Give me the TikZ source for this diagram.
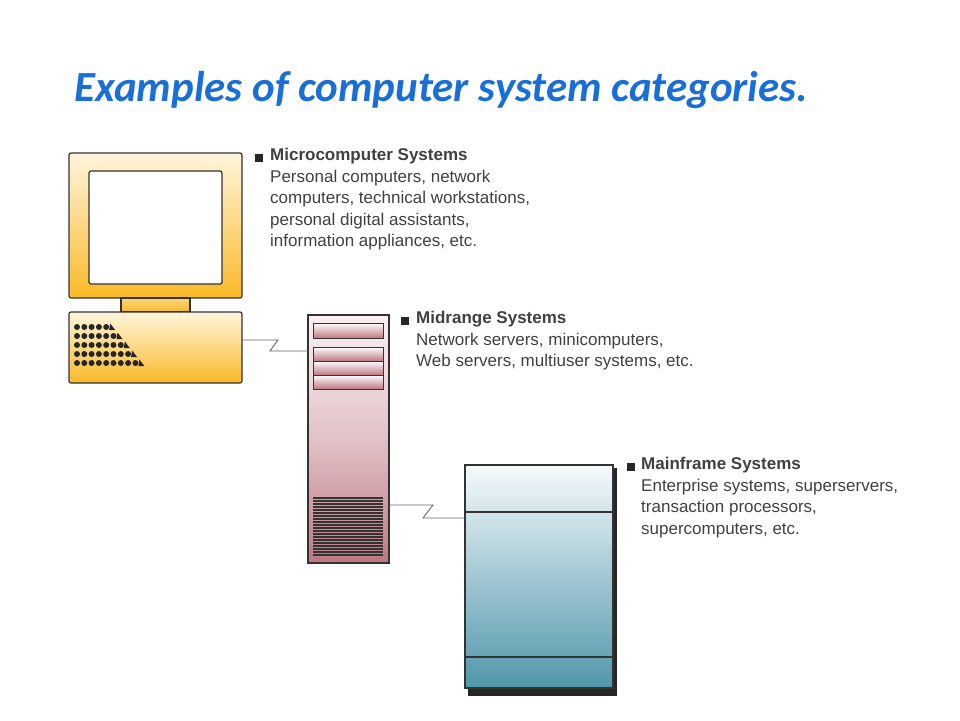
\documentclass[tikz,border=0pt]{standalone}
\usepackage{fontspec}
\setmainfont{Liberation Sans}
\newfontfamily\titlefont{Carlito}[UprightFont=*-BoldItalic,BoldFont=*-BoldItalic,ItalicFont=*-BoldItalic,BoldItalicFont=*-BoldItalic]
\definecolor{titleblue}{RGB}{25,110,215}
\definecolor{mon}{RGB}{250,185,40}
\definecolor{monlt}{RGB}{255,245,220}
\definecolor{tow}{RGB}{190,120,130}
\definecolor{towlt}{RGB}{250,240,242}
\definecolor{mf}{RGB}{80,150,170}
\definecolor{mflt}{RGB}{245,250,252}
\tikzset{
  body/.style={draw=black!80,line width=1.2pt},
  wire/.style={draw=black!60,line width=0.9pt},
  lbl/.style={anchor=north west,inner sep=0pt,align=left,font=\fontsize{17}{21.6}\selectfont,text=black!75},
  bul/.style={fill=black!85,minimum size=8pt,inner sep=0pt},
}
\begin{document}
\begin{tikzpicture}[x=1pt,y=-1pt]
\useasboundingbox (0,0) rectangle (960,720);
% title
\node[anchor=base west,inner sep=0pt,text=titleblue] (title) at (74,101) {\titlefont\fontsize{43}{48}\selectfont Examples of computer system categories.};
% monitor
\draw[body,rounded corners=2pt,top color=monlt,bottom color=mon] (69,153) rectangle (242,298);
\draw[body,rounded corners=2pt,fill=white] (89,171) rectangle (222,284);
\draw[body,top color=mon!60,bottom color=mon] (121,298) rectangle (190,312);
\draw[body,rounded corners=2pt,top color=monlt,bottom color=mon] (69,312) rectangle (242,383);
\node[inner sep=0pt,minimum width=0pt] (micro) at (242,340) {};
\foreach \r/\n in {0/4,1/5,2/6,3/7,4/8}{
  \foreach \c in {0,...,\n}{
    \fill[black!85] (77+\c*7.3,327+\r*9) circle (3pt);
  }
  \fill[black!85] (77+\n*7.3+4,323.5+\r*9) -- (77+\n*7.3+9,330+\r*9) -- (77+\n*7.3+3,330+\r*9) -- cycle;
}
% tower
\draw[body,top color=towlt,bottom color=tow,middle color=tow!45] (308,315) rectangle (389,563);
\node[inner sep=0pt] (tower) at (308,351) {};
\node[inner sep=0pt] (towerr) at (389,505) {};
\foreach \a/\b in {323/338,347/361,361/375,375/389}
  \draw[body,line width=1pt,top color=white,bottom color=tow] (313,\a) rectangle (383,\b);
\foreach \i in {0,...,19} \draw[black!80,line width=1.3pt] (313,498+\i*3) -- (383,498+\i*3);
% mainframe
\fill[black!85] (468,688) rectangle (617,696);
\fill[black!85] (613,468) rectangle (617,696);
\draw[body,top color=mflt,bottom color=mf] (465,465) rectangle (613,688);
\draw[body] (465,512) -- (613,512);
\draw[body] (465,657) -- (613,657);
\node[inner sep=0pt] (mainf) at (465,518) {};
% connectors
\draw[wire] (micro) -- (278,340) -- (270,351) -- (tower);
\draw[wire] (towerr) -- (433,505) -- (423,518) -- (mainf);
% labels
\node[bul] (b1) at (259,158) {};
\node[lbl] (t1) at (270,148) {\textbf{Microcomputer Systems}\\Personal computers, network\\computers, technical workstations,\\personal digital assistants,\\information appliances, etc.};
\node[bul] (b2) at (405,321) {};
\node[lbl] (t2) at (416,311) {\textbf{Midrange Systems}\\Network servers, minicomputers,\\Web servers, multiuser systems, etc.};
\node[bul] (b3) at (631,467) {};
\node[lbl] (t3) at (641,457) {\textbf{Mainframe Systems}\\Enterprise systems, superservers,\\transaction processors,\\supercomputers, etc.};
\end{tikzpicture}
\end{document}
